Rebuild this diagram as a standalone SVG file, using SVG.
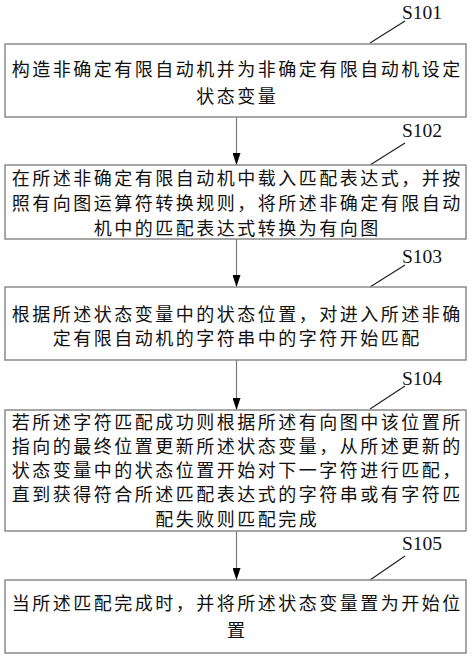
<svg xmlns="http://www.w3.org/2000/svg" width="474" height="659" viewBox="0 0 474 659">
<style>
.box{fill:#fff;stroke:#8a8a8a;stroke-width:1.5}
.t{font-family:"Noto Sans CJK SC","Noto Sans CJK JP",sans-serif;font-size:18px;letter-spacing:2.5px;fill:#111}
.c{text-anchor:middle}
.lbl{font-family:"Liberation Serif","Times New Roman",serif;font-size:19.5px;fill:#111}
.ld{stroke:#222;stroke-width:1.2}
.ar{stroke:#7a7a7a;stroke-width:1.2;marker-end:url(#ah)}
</style>
<defs>
<marker id="ah" markerWidth="12" markerHeight="8" refX="12" refY="4" orient="auto" markerUnits="userSpaceOnUse" viewBox="0 0 12 8"><path d="M0,0 L12,4 L0,8 Z" fill="#000"/></marker>
</defs>
<rect width="474" height="659" fill="#fff"/>
<g id="connectors">
<line class="ar" x1="236.5" y1="117" x2="236.5" y2="165"/>
<line class="ar" x1="236.5" y1="239" x2="236.5" y2="287"/>
<line class="ar" x1="236.5" y1="360" x2="236.5" y2="410"/>
<line class="ar" x1="236.5" y1="531" x2="236.5" y2="580"/>
<line class="ld" x1="370" y1="43" x2="405" y2="21"/>
<line class="ld" x1="370" y1="165" x2="405" y2="143"/>
<line class="ld" x1="370" y1="287" x2="405" y2="265"/>
<line class="ld" x1="370" y1="409" x2="405" y2="386"/>
<line class="ld" x1="370" y1="580" x2="405" y2="556"/>
</g>
<g id="s101">
<rect class="box" x="5" y="44" width="461" height="73"/>
<text class="t c" x="237.25" y="76">构造非确定有限自动机并为非确定有限自动机设定</text>
<text class="t c" x="237.25" y="103">状态变量</text>
<text class="lbl" x="402" y="19">S101</text>
</g>
<g id="s102">
<rect class="box" x="5" y="165" width="461" height="74"/>
<text class="t c" x="237.25" y="185">在所述非确定有限自动机中载入匹配表达式，并按</text>
<text class="t c" x="237.25" y="210">照有向图运算符转换规则，将所述非确定有限自动</text>
<text class="t c" x="237.25" y="235">机中的匹配表达式转换为有向图</text>
<text class="lbl" x="402" y="136.5">S102</text>
</g>
<g id="s103">
<rect class="box" x="5" y="287" width="461" height="73"/>
<text class="t c" x="237.25" y="321">根据所述状态变量中的状态位置，对进入所述非确</text>
<text class="t c" x="237.25" y="345">定有限自动机的字符串中的字符开始匹配</text>
<text class="lbl" x="402" y="263">S103</text>
</g>
<g id="s104">
<rect class="box" x="5" y="410" width="461" height="121"/>
<text class="t c" x="237.25" y="429">若所述字符匹配成功则根据所述有向图中该位置所</text>
<text class="t c" x="237.25" y="453">指向的最终位置更新所述状态变量，从所述更新的</text>
<text class="t c" x="237.25" y="477">状态变量中的状态位置开始对下一字符进行匹配，</text>
<text class="t c" x="237.25" y="501">直到获得符合所述匹配表达式的字符串或有字符匹</text>
<text class="t c" x="237.25" y="526">配失败则匹配完成</text>
<text class="lbl" x="402" y="385">S104</text>
</g>
<g id="s105">
<rect class="box" x="5" y="580" width="461" height="73"/>
<text class="t c" x="237.25" y="610">当所述匹配完成时，并将所述状态变量置为开始位</text>
<text class="t c" x="237.25" y="637">置</text>
<text class="lbl" x="402" y="550">S105</text>
</g>
</svg>
